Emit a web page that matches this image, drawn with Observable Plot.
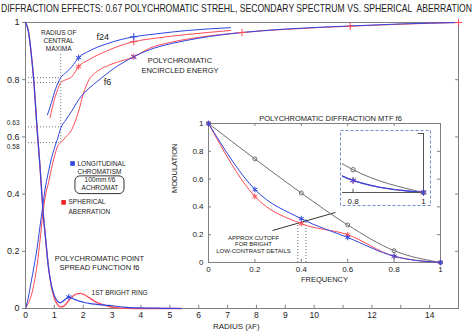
<!DOCTYPE html>
<html><head><meta charset="utf-8">
<script src="https://cdn.jsdelivr.net/npm/d3@7"></script>
<script src="https://cdn.jsdelivr.net/npm/@observablehq/plot@0.6"></script>
<style>
body{margin:0;background:#fff}
#wrap{position:relative;width:474px;height:334px;overflow:hidden;background:#fff;font-family:"Liberation Sans",Arial,sans-serif}
#title{position:absolute;left:1px;top:3px;font-size:10.5px;line-height:1;white-space:nowrap;transform-origin:0 0;color:#222}
.layer{position:absolute}
</style></head><body>
<div id="wrap">
<div id="main" class="layer" style="left:0;top:0"></div>
<div id="inset" class="layer" style="left:165px;top:105px"></div>
<div id="sub" class="layer" style="left:335px;top:125px"></div>
<div id="title">DIFFRACTION EFFECTS: 0.67 POLYCHROMATIC STREHL, SECONDARY SPECTRUM VS. SPHERICAL&nbsp; ABERRATION</div>
</div>
<script>
// ---------- data ----------
const xTickValues = [0,1,2,3,4,5,6,7,8,9,10,11,12,13,14];
const xLabelValues = [0,1,2,3,4,5,6,7,8,9,10,12,14];
const yTickValues = [0,0.2,0.4,0.6,0.8,1];
const yExtraLabels = [0.63, 0.58];

// point spread function f6
const psfRadius = [0,0.1,0.2,0.3,0.4,0.5,0.6,0.7,0.8,0.9,1.0,1.1,1.2,1.3,1.4,1.5,1.6,1.7,1.8,1.9,2.0,2.2,2.4,2.6,2.9,3.2,3.5,4.0,4.5,5.0,5.4];
const psfBlue   = [1,0.97,0.89,0.78,0.63,0.5,0.35,0.24,0.14,0.08,0.045,0.027,0.02,0.025,0.034,0.04,0.037,0.032,0.028,0.025,0.022,0.018,0.015,0.013,0.011,0.007,0.004,0.002,0.001,0.0005,0];
const psfRed    = [1,0.97,0.89,0.78,0.63,0.5,0.35,0.24,0.14,0.075,0.035,0.015,0.006,0.007,0.015,0.028,0.04,0.047,0.052,0.053,0.05,0.038,0.025,0.016,0.007,0.002,0.001,0,0,0,0];

// encircled energy f6
const eeF6Radius = [0,0.1,0.2,0.3,0.4,0.5,0.6,0.7,0.8,0.9,1.0,1.1,1.22,1.4,1.6,1.84,2.0,2.2,2.5,3.0,3.75,4.3,5.0,6.0,7.5,9.0,11.25,13.0,15.0];
const eeF6Blue   = [0,0.04,0.095,0.15,0.21,0.285,0.36,0.43,0.48,0.525,0.56,0.59,0.63,0.66,0.69,0.73,0.75,0.77,0.795,0.835,0.88,0.905,0.925,0.945,0.965,0.977,0.988,0.995,1.0];
const eeF6Red    = [0,0.02,0.045,0.09,0.15,0.235,0.33,0.40,0.44,0.49,0.53,0.565,0.58,0.6,0.625,0.69,0.75,0.80,0.83,0.855,0.88,0.91,0.93,0.948,0.965,0.976,0.987,0.994,1.0];

// encircled energy f24
const eeF24BlueRadius = [0.76,0.9,1.05,1.22,1.4,1.6,1.84,2.2,2.8,3.75,4.5,5.6,7.1];
const eeF24Blue       = [0.677,0.72,0.77,0.807,0.825,0.845,0.877,0.9,0.925,0.95,0.96,0.972,0.982];
const eeF24RedRadius  = [0.85,1.0,1.15,1.22,1.4,1.6,1.84,2.2,2.8,3.75,4.5,5.6,7.1];
const eeF24Red        = [0.667,0.73,0.775,0.79,0.8,0.81,0.846,0.87,0.9,0.933,0.945,0.958,0.972];

const centralMaxRadius = 1.22;
const eeAtCentralMax = [0.807, 0.79, 0.635, 0.58];

// MTF f6
const mtfFreq    = [0,0.2,0.4,0.6,0.8,1];
const mtfPerfect = [1,0.745,0.5,0.27,0.085,0];
const mtfBlue    = [1,0.525,0.315,0.18,0.045,0];
const mtfRed     = [1,0.475,0.28,0.2,0.045,0];
const mtfTicks   = [0,0.2,0.4,0.6,0.8,1];
const cutoffFreq = [0.385, 0.42];
const cutoffMod  = [0.28, 0.31];
const subTicks   = [0.8, 1];

// ---------- helpers ----------
const BLUE="#2f45e0", RED="#ff4a55", GRAY="#6e6e6e", INK="#222", AXIS="#808080";
const FONT = "Liberation Sans, Arial, sans-serif";
const zip = (xs, ys) => xs.map((x,i)=>({x, y: ys[i]}));
const at = (s, xs) => s.filter(d => xs.includes(d.x));
const ln = (data, stroke, extra={}) => Plot.line(data, {x:"x", y:"y", stroke, strokeWidth:1, curve:"monotone-x", ...extra});
const mk = (data, symbol, stroke, r=2.5) => Plot.dot(data, {x:"x", y:"y", symbol, stroke, r, strokeWidth:1});
const fmt = d => d===0?"0":d===1?"1":d.toFixed(1);

const psfB = zip(psfRadius, psfBlue), psfR = zip(psfRadius, psfRed);
const f6B = zip(eeF6Radius, eeF6Blue), f6R = zip(eeF6Radius, eeF6Red);
const f24B = zip(eeF24BlueRadius, eeF24Blue), f24R = zip(eeF24RedRadius, eeF24Red);

const mainNotesMid = [
  {x:1.15, y:0.962, t:"RADIUS OF", s:6.5},
  {x:1.15, y:0.935, t:"CENTRAL", s:6.5},
  {x:1.15, y:0.909, t:"MAXIMA", s:6.5},
  {x:2.68, y:0.948, t:"f24", s:9},
  {x:2.84, y:0.79, t:"f6", s:9},
  {x:5.35, y:0.867, t:"POLYCHROMATIC", s:7.5},
  {x:5.35, y:0.832, t:"ENCIRCLED ENERGY", s:7.5},
  {x:2.56, y:0.175, t:"POLYCHROMATIC POINT", s:7.5},
  {x:2.56, y:0.143, t:"SPREAD FUNCTION f6", s:7.5},
  {x:3.26, y:0.056, t:"1ST BRIGHT RING", s:6.5},
  {x:2.58, y:0.448, t:"100mm f/6", s:6.5},
  {x:2.58, y:0.421, t:"ACHROMAT", s:6.5}
];
const mainNotesStart = [
  {x:1.80, y:0.507, t:"LONGITUDINAL"},
  {x:1.80, y:0.479, t:"CHROMATISM"},
  {x:1.49, y:0.371, t:"SPHERICAL"},
  {x:1.49, y:0.339, t:"ABERRATION"}
];
const legendBox = [{x1:1.73, x2:3.43, y1:0.400, y2:0.462}];

// ---------- main chart ----------
const main = Plot.plot({
  width: 474, height: 334,
  marginTop: 22, marginBottom: 26, marginLeft: 25, marginRight: 16,
  x: {domain:[0,15]}, y: {domain:[0,1]},
  style: {background:"transparent", fontFamily: FONT, fontSize:"9px", color: INK},
  marks: [
    Plot.frame({stroke: AXIS}),
    Plot.ruleY(eeAtCentralMax, {x1:0, x2:centralMaxRadius, stroke:"#777", strokeDasharray:"1,2"}),
    Plot.ruleX([centralMaxRadius], {y1:0.58, y2:0.895, stroke:"#777", strokeDasharray:"1,2"}),
    ln(f6R, RED), ln(f6B, BLUE),
    ln(f24R, RED), ln(f24B, BLUE),
    ln(psfR, RED, {strokeWidth:1.3}), ln(psfB, BLUE, {strokeWidth:1.2}),
    mk(at(f24R,[1.84]), "asterisk", RED, 2.8),
    mk(at(f24B,[1.84]), "asterisk", BLUE, 2.8),
    mk(at(f24R,[3.75]), "plus", RED),
    mk(at(f24B,[3.75]), "plus", BLUE),
    mk(at(f6R,[3.75]), "asterisk", RED, 3),
    mk(at(f6B,[3.75]), "times", BLUE, 2.2),
    mk(at(f6R,[7.5,11.25,15]), "plus", RED),
    mk(at(psfB,[1.5]), "asterisk", BLUE, 2.8),
    Plot.ruleX(xTickValues, {y1:0, y2:0.011, stroke:AXIS}),
    Plot.ruleY(yTickValues.slice(1,5), {x1:15, x2:14.9, stroke:AXIS}),
    Plot.axisX({ticks:xTickValues, tickSize:0, tickPadding:3, tickFormat:d=>xLabelValues.includes(d)?String(d):"", label:null, fontSize:8.5, fill:INK}),
    Plot.axisY({ticks:yTickValues, tickSize:3, tickPadding:3, tickFormat:fmt, label:null, fontSize:9, fill:INK, stroke:AXIS}),
    Plot.text([yExtraLabels[0]], {x:0, y:d=>d, dx:-6, dy:-5, text:d=>String(d), textAnchor:"end", fontSize:6.5, fill:INK}),
    Plot.text([yExtraLabels[1]], {x:0, y:d=>d, dx:-6, dy:4.5, text:d=>String(d), textAnchor:"end", fontSize:6.5, fill:INK}),
    Plot.text(["RADIUS (\u03BBF)"], {x:7.3, frameAnchor:"bottom", dy:20, text:d=>d, fontSize:8, fill:INK}),
    Plot.text(mainNotesMid, {x:"x", y:"y", text:"t", fontSize:"s", fill:INK}),
    Plot.text(mainNotesStart, {x:"x", y:"y", text:"t", fontSize:6.5, textAnchor:"start", fill:INK}),
    Plot.rect(legendBox, {x1:"x1", x2:"x2", y1:"y1", y2:"y2", rx:5, fill:"none", stroke:"#333"}),
    Plot.dot([{x:1.63, y:0.507}], {x:"x", y:"y", symbol:"square", fill:BLUE, r:2.6}),
    Plot.dot([{x:1.32, y:0.371}], {x:"x", y:"y", symbol:"square", fill:"#f02020", r:2.6})
  ]
});
document.getElementById("main").appendChild(main);

// ---------- inset MTF ----------
const mP = zip(mtfFreq, mtfPerfect), mB = zip(mtfFreq, mtfBlue), mR = zip(mtfFreq, mtfRed);
const cutoffNote = [
  {x:0.194, y:0.173, t:"APPROX CUTOFF"},
  {x:0.194, y:0.129, t:"FOR BRIGHT"},
  {x:0.194, y:0.079, t:"LOW-CONTRAST DETAILS"}
];
const leader = [{x1:0.276, y1:0.23, x2:0.547, y2:0.36}];
const inset = Plot.plot({
  width: 280, height: 185,
  marginLeft: 43, marginRight: 5, marginTop: 18, marginBottom: 28,
  x: {domain:[0,1]}, y: {domain:[0,1]},
  style: {background:"transparent", fontFamily: FONT, fontSize:"8px", color: INK},
  marks: [
    Plot.frame({stroke: AXIS}),
    Plot.ruleX(mtfTicks, {y1:0, y2:0.022, stroke:AXIS}),
    Plot.ruleX(mtfTicks, {y1:1, y2:0.978, stroke:AXIS}),
    Plot.ruleY(mtfTicks, {x1:0, x2:0.013, stroke:AXIS}),
    Plot.ruleY(mtfTicks, {x1:1, x2:0.987, stroke:AXIS}),
    Plot.ruleX(cutoffFreq.map((f,i)=>({f, m:cutoffMod[i]})), {x:"f", y1:0, y2:"m", stroke:"#666", strokeDasharray:"1,2"}),
    Plot.link(leader, {x1:"x1", y1:"y1", x2:"x2", y2:"y2", stroke:"#333"}),
    ln(mP, GRAY), ln(mR, RED), ln(mB, BLUE),
    mk(mP, "circle", GRAY, 2),
    mk(mR, "asterisk", RED, 2.6),
    mk(mB, "asterisk", BLUE, 2.6),
    Plot.axisX({ticks:mtfTicks, tickSize:0, tickPadding:4, tickFormat:fmt, label:null, fontSize:8, fill:INK}),
    Plot.axisY({ticks:mtfTicks, tickSize:0, tickPadding:5, tickFormat:fmt, label:null, fontSize:8, fill:INK}),
    Plot.text(["POLYCHROMATIC DIFFRACTION MTF f6"], {frameAnchor:"top", dy:-8, dx:6, text:d=>d, fontSize:7.5, fill:INK}),
    Plot.text(["FREQUENCY"], {frameAnchor:"bottom", dy:19, text:d=>d, fontSize:7.5, fill:INK}),
    Plot.text(["MODULATION"], {frameAnchor:"left", dx:-34, rotate:-90, text:d=>d, fontSize:7.5, fill:INK}),
    Plot.text(cutoffNote, {x:"x", y:"y", text:"t", fontSize:6, fill:INK})
  ]
});
document.getElementById("inset").appendChild(inset);

// ---------- zoomed sub-inset ----------
const sub = Plot.plot({
  width: 100, height: 85,
  marginLeft: 7, marginRight: 12, marginTop: 8, marginBottom: 18,
  x: {domain:[0.77,1.0], axis:null}, y: {domain:[0,0.22], axis:null},
  style: {background:"transparent", fontFamily: FONT, fontSize:"8px", color: INK},
  marks: [
    Plot.frame({stroke:"#6f8fcf", strokeDasharray:"3,2", insetLeft:-2, insetRight:-7, insetTop:-3, insetBottom:-13}),
    Plot.ruleY([0], {stroke:"#555"}),
    Plot.ruleX([1], {stroke:"#555"}),
    Plot.ruleX([0.8], {y1:0, y2:0.012, stroke:"#555"}),
    Plot.ruleY([0.22], {x1:0.985, x2:1, stroke:"#555"}),
    ln(mP, GRAY, {clip:true}), ln(mR, RED, {clip:true}), ln(mB, BLUE, {clip:true, strokeWidth:1.3}),
    mk(at(mP,[0.8,1]), "circle", GRAY, 2.2),
    mk(at(mR,[0.8,1]), "asterisk", RED, 3),
    mk(at(mB,[0.8,1]), "asterisk", BLUE, 3),
    Plot.text(subTicks, {x:d=>d, y:0, dy:9, text:fmt, fontSize:8, fill:INK})
  ]
});
document.getElementById("sub").appendChild(sub);

// fit title
const t = document.getElementById("title");
const w = t.getBoundingClientRect().width;
t.style.transform = `scaleX(${471/w})`;
</script>
</body></html>
